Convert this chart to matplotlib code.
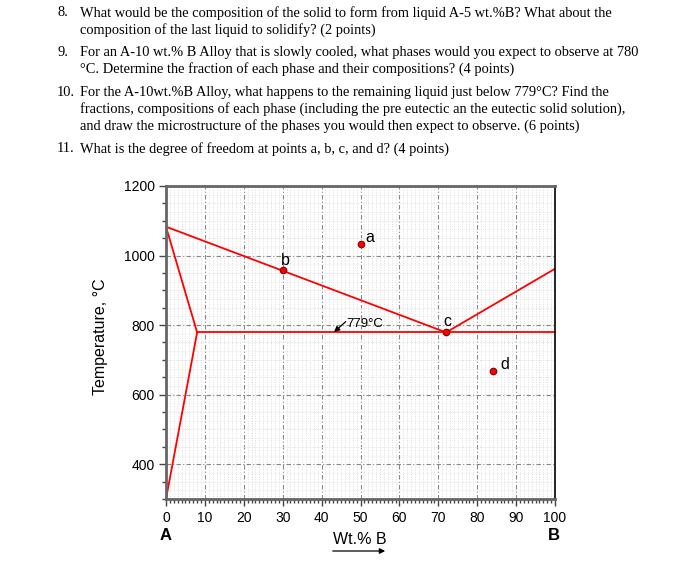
import matplotlib.pyplot as plt
from matplotlib.patches import FancyArrowPatch
from matplotlib.ticker import MultipleLocator
import numpy as np

# question text above the diagram
questions = [
    ("8.", ["What would be the composition of the solid to form from liquid A-5 wt.%B? What about the",
            "composition of the last liquid to solidify? (2 points)"]),
    ("9.", ["For an A-10 wt.% B Alloy that is slowly cooled, what phases would you expect to observe at 780",
            "\u00b0C. Determine the fraction of each phase and their compositions? (4 points)"]),
    ("10.", ["For the A-10wt.%B Alloy, what happens to the remaining liquid just below 779\u00b0C? Find the",
             "fractions, compositions of each phase (including the pre eutectic an the eutectic solid solution),",
             "and draw the microstructure of the phases you would then expect to observe. (6 points)"]),
    ("11.", ["What is the degree of freedom at points a, b, c, and d? (4 points)"]),
]

# phase boundaries (wt.% B, temperature in C)
liquidus_x = [0, 72, 100]
liquidus_t = [1083, 779, 962]
solidus_x = [0, 8]
solidus_t = [1083, 779]
solvus_x = [8, 0]
solvus_t = [779, 300]
eutectic_x = [8, 100]
eutectic_t = [779, 779]

# labelled points
point_names = ["a", "b", "c", "d"]
point_x = [50, 30, 72, 84]
point_t = [1033, 958, 779, 668]
label_dx = [2.5, 0.8, 0.3, 3.0]
label_dy = [20, 28, 32, 20]

fig = plt.figure(figsize=(6.83, 5.64), dpi=100)

# text block
line_y = 1 - 13 / 564
for num, lines in questions:
    fig.text(57 / 683, line_y, num, family="Liberation Serif", fontsize=10.4, va="center")
    for ln in lines:
        fig.text(80 / 683, line_y, ln, family="Liberation Serif", fontsize=10.4, va="center")
        line_y -= 16.8 / 564
    line_y -= 6 / 564

ax = fig.add_axes([166 / 683, 1 - 499 / 564, 389 / 683, 313 / 564])
ax.set_xlim(0, 100)
ax.set_ylim(300, 1200)

ax.xaxis.set_major_locator(MultipleLocator(10))
ax.xaxis.set_minor_locator(MultipleLocator(1))
ax.yaxis.set_major_locator(MultipleLocator(200))
ax.yaxis.set_minor_locator(MultipleLocator(50))
ax.set_yticks([400, 600, 800, 1000, 1200])

ax.grid(which="major", color="#888888", linestyle=(0, (4, 2, 1, 2)), linewidth=0.8)
ax.grid(which="minor", color="#dddddd", linestyle=(0, (1, 1.5)), linewidth=0.7)
for yy in np.arange(325, 1200, 50):
    ax.axhline(yy, color="#e6e6e6", linestyle=(0, (1, 1.5)), linewidth=0.6, zorder=0)
ax.set_axisbelow(True)

for side in ["left", "bottom", "top"]:
    ax.spines[side].set_color("#666666")
    ax.spines[side].set_linewidth(2)
ax.spines["right"].set_color("black")
ax.spines["right"].set_linewidth(1.2)

ax.tick_params(which="major", direction="out", length=5, width=1, color="#444444",
               labelsize=10, pad=3)
ax.tick_params(which="minor", direction="out", length=3, width=1, color="#444444")
ax.tick_params(axis="x", which="major", pad=4)
for lab in ax.get_xticklabels() + ax.get_yticklabels():
    lab.set_family("Liberation Sans")

red = "#ff0000"
ax.plot(liquidus_x, liquidus_t, color=red, lw=1.3)
ax.plot(solidus_x, solidus_t, color=red, lw=1.3)
ax.plot(solvus_x, solvus_t, color=red, lw=1.3)
ax.plot(eutectic_x, eutectic_t, color=red, lw=1.3)

ax.scatter(point_x, point_t, s=22, color=red, edgecolor="#800000", linewidth=0.8, zorder=5)
for n, x, t, dx, dy in zip(point_names, point_x, point_t, label_dx, label_dy):
    ax.text(x + dx, t + dy, n, family="Liberation Sans", fontsize=11.5, ha="center", va="center")

ax.annotate("", xy=(43.2, 780), xytext=(46.2, 810),
            arrowprops=dict(arrowstyle="-|>", color="black", lw=0.9, mutation_scale=8,
                            shrinkA=0, shrinkB=0))
ax.text(46.3, 802, "779\u00b0C", family="Liberation Sans", fontsize=9.5, va="center", ha="left")

ax.set_ylabel("Temperature, \u00b0C", family="Liberation Sans", fontsize=11.5)
ax.yaxis.set_label_coords((108 - 166) / 389, 0.52)

fig.text(360 / 683, 1 - 539 / 564, "Wt.% B", family="Liberation Sans", fontsize=11.5,
         ha="center", va="center")
fig.text(166 / 683, 1 - 536 / 564, "A", family="Liberation Sans", fontsize=12,
         weight="bold", ha="center", va="center")
fig.text(554 / 683, 1 - 536 / 564, "B", family="Liberation Sans", fontsize=12,
         weight="bold", ha="center", va="center")
fig.patches.append(FancyArrowPatch(
    (330 / 683, 1 - 551 / 564), (388 / 683, 1 - 551 / 564), transform=fig.transFigure,
    arrowstyle="-|>", mutation_scale=8, color="black", lw=0.9))

fig.savefig("out.png", dpi=100)
